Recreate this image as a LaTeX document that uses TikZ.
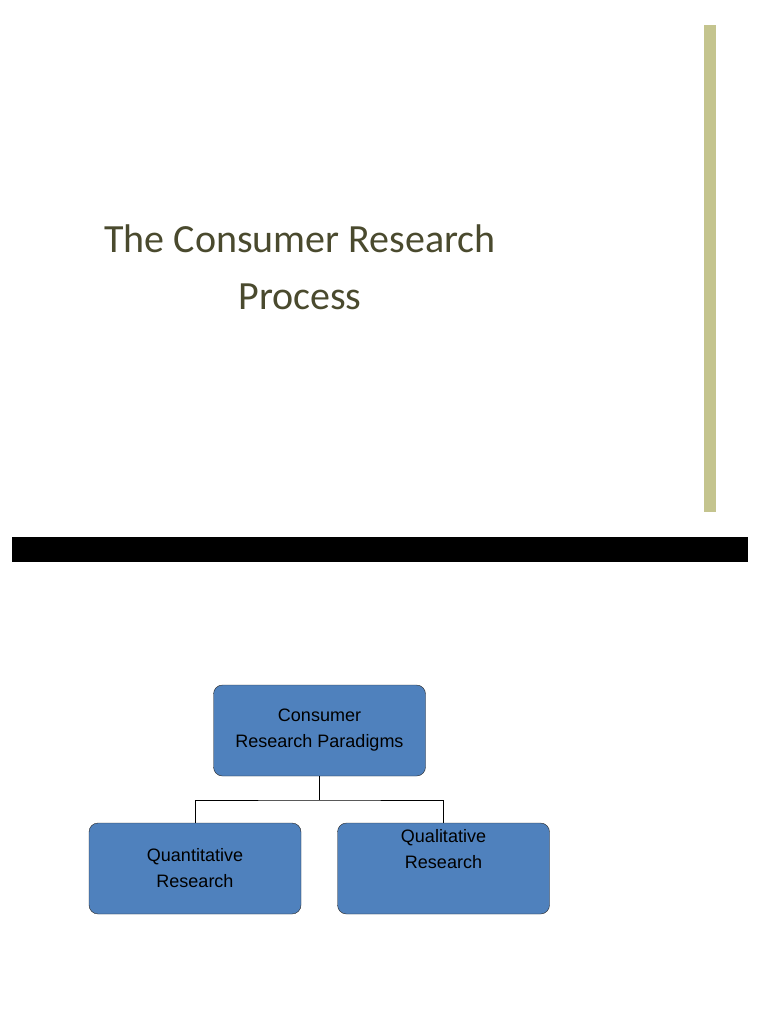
\documentclass[tikz,border=0pt]{standalone}
\usepackage{fontspec}
\setmainfont{Liberation Sans}
\newfontfamily\titlefont{Carlito}
\usetikzlibrary{positioning}
\definecolor{titlecol}{HTML}{4A4A2E}
\definecolor{barcol}{HTML}{C4C48E}
\definecolor{boxcol}{HTML}{4F81BD}
\begin{document}
\begin{tikzpicture}[x=1pt,y=-1pt]
\tikzstyle{para}=[rectangle, rounded corners=9pt, draw=black!85, fill=boxcol, minimum width=212pt, minimum height=91pt, align=center, font=\fontsize{18}{26}\selectfont]
\tikzstyle{link}=[thick, draw=black]
\useasboundingbox (0,0) rectangle (768,1024);
\fill[barcol] (704,25) rectangle (716,512);
\fill[black] (12,537) rectangle (748,562);
\node[text=titlecol, align=center, font=\titlefont\fontsize{40}{57}\selectfont] (title) at (300,267) {The Consumer Research\\Process};
\node[para] (top) at (319.5,730.5) {Consumer\\Research Paradigms};
\node[para] (quan) at (195,868.5) {Quantitative\\Research};
\node[para] (qual) at (443.5,868.5) {Qualitative\\Research\\[14pt]};
\coordinate (mid) at (319.5,800);
\draw[link] (top.south) -- (mid);
\draw[link] (quan.north) |- (mid) -| (qual.north);
\end{tikzpicture}
\end{document}
